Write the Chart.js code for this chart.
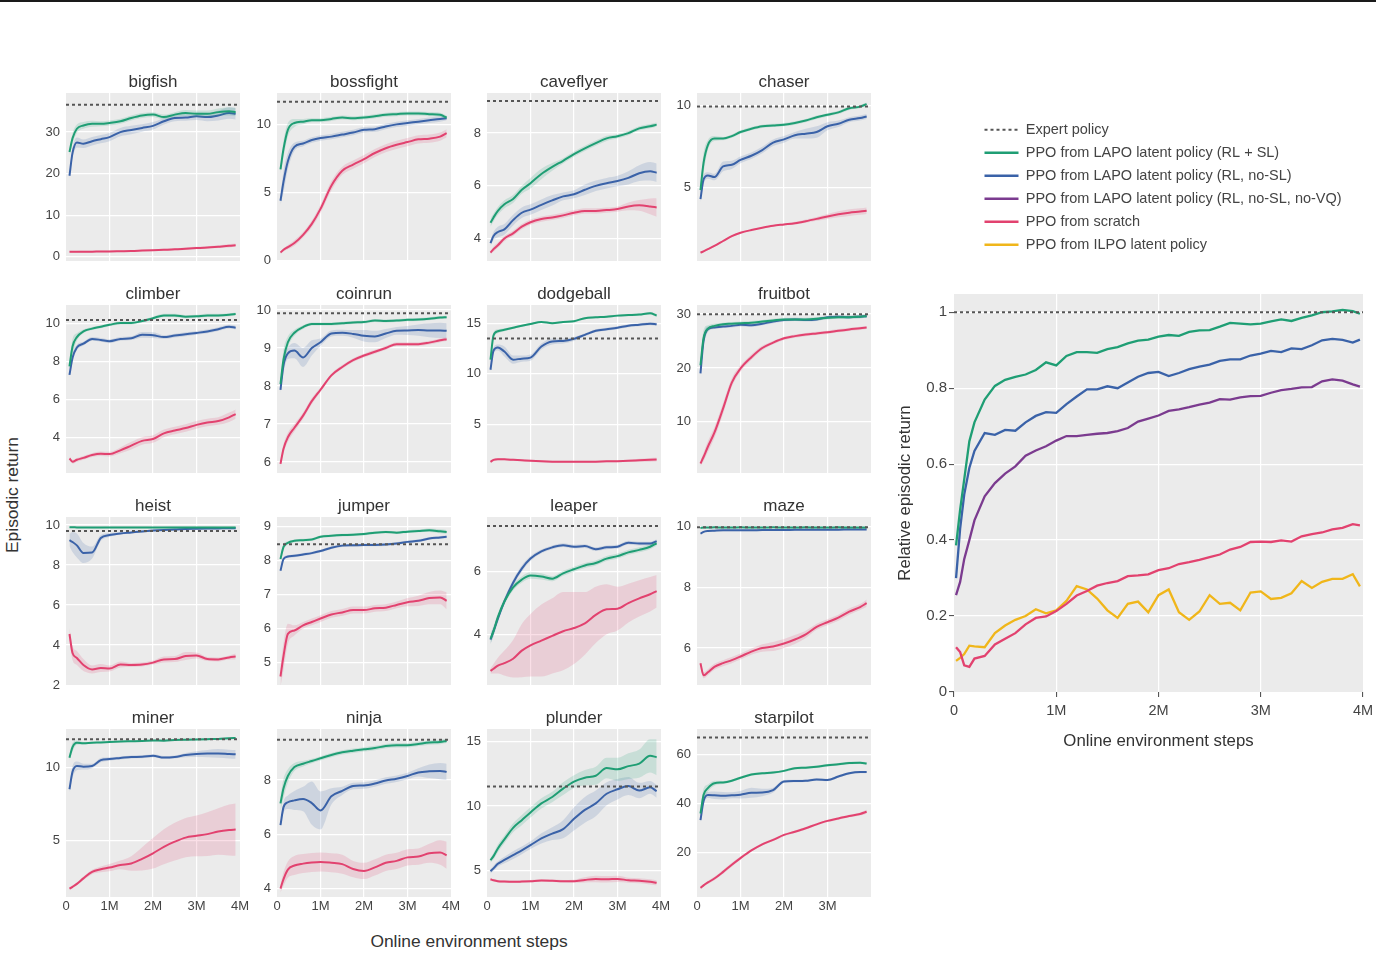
<!DOCTYPE html>
<html>
<head>
<meta charset="utf-8">
<title>LAPO Procgen online RL results</title>
<script src="https://cdn.jsdelivr.net/npm/chart.js@4.4.1/dist/chart.umd.min.js"></script>
<style>
  html, body { margin:0; padding:0; background:#ffffff; overflow:hidden; }
  #page { position:relative; width:1376px; height:954px; overflow:hidden; background:#ffffff; }
  #page canvas { position:absolute; }
  #topline { position:absolute; left:0; top:0; width:1376px; height:2px; background:#1a1a1a; }
  .axlbl { position:absolute; font-family:'Liberation Sans', Arial, sans-serif; font-size:17.4px; color:#333; white-space:nowrap; }
</style>
</head>
<body>
<div id="page">
  <div id="topline"></div>
  <div class="axlbl" style="left:12px;top:495px;transform:translate(-50%,-50%) rotate(-90deg);">Episodic return</div>
  <div class="axlbl" style="left:469px;top:941px;transform:translate(-50%,-50%);">Online environment steps</div>
</div>
<script>
// ---------------- DATA ----------------
// x positions (millions of online environment steps) of the per-game curves
const steps = [0.08, 0.15, 0.25, 0.4, 0.6, 0.8, 1.0, 1.25, 1.5, 1.75, 2.0, 2.25, 2.5, 2.75, 3.0, 3.25, 3.5, 3.75, 3.9];

const gameNames = ['bigfish','bossfight','caveflyer','chaser','climber','coinrun','dodgeball','fruitbot',
                   'heist','jumper','leaper','maze','miner','ninja','plunder','starpilot'];
const expertReturns = [36.6, 11.66, 9.22, 9.96, 10.21, 9.91, 13.5, 29.94, 9.7, 8.48, 7.46, 9.98, 11.93, 9.48, 11.52, 66.8];
const yAxisMin = [-1.0, -0.02, 3.15, 0.53, 2.1, 5.71, 0.2, 0.53, 2.0, 4.35, 2.38, 4.78, 1.1, 3.69, 2.92, 2.1];
const yAxisMax = [39.4, 12.3, 9.52, 10.78, 11.0, 10.13, 16.8, 31.67, 10.4, 9.28, 7.75, 10.32, 12.64, 9.88, 15.99, 70.3];
const yTickValues = [[0,10,20,30],[0,5,10],[4,6,8],[5,10],[4,6,8,10],[6,7,8,9,10],[5,10,15],[10,20,30],
                     [2,4,6,8,10],[5,6,7,8,9],[4,6],[6,8,10],[5,10],[4,6,8],[5,10,15],[20,40,60]];
const xTickValues = [0, 1, 2, 3, 4];
const xTickLabels = ['0', '1M', '2M', '3M', '4M'];

// PPO from LAPO latent policy (RL + SL): mean and half-width of band
const rlsl_bigfish    = [25.2, 28.5, 30.8, 31.6, 32.0, 32.0, 32.2, 32.6, 33.4, 34.0, 34.2, 33.6, 34.2, 34.6, 34.4, 34.4, 34.8, 35.0, 34.8];
const rlslSd_bigfish  = [0.8, 1.2, 1.0, 0.8, 0.7, 0.6, 0.6, 0.6, 0.6, 0.6, 0.6, 0.6, 0.6, 0.7, 0.8, 0.8, 0.9, 1.0, 1.0];
const nosl_bigfish    = [19.5, 25.0, 27.5, 27.2, 27.8, 28.3, 28.8, 30.0, 30.5, 31.0, 31.5, 32.6, 33.4, 33.5, 33.8, 33.6, 34.0, 34.6, 34.4];
const noslSd_bigfish  = [0.6, 1.2, 1.2, 1.0, 1.0, 1.0, 1.0, 1.0, 1.0, 0.9, 0.9, 0.8, 0.8, 0.8, 0.9, 1.0, 1.2, 1.4, 1.4];
const scratch_bigfish = [1.2, 1.2, 1.2, 1.25, 1.25, 1.3, 1.3, 1.35, 1.4, 1.5, 1.6, 1.7, 1.8, 1.95, 2.1, 2.25, 2.45, 2.65, 2.8];
const scratchSd_bigfish = [0.2, 0.2, 0.2, 0.2, 0.2, 0.2, 0.2, 0.2, 0.2, 0.2, 0.2, 0.25, 0.25, 0.3, 0.3, 0.3, 0.35, 0.4, 0.4];

const rlsl_bossfight    = [6.7, 8.2, 9.6, 10.1, 10.2, 10.3, 10.3, 10.4, 10.5, 10.45, 10.5, 10.6, 10.7, 10.75, 10.8, 10.8, 10.75, 10.7, 10.5];
const rlslSd_bossfight  = [0.3, 0.6, 0.5, 0.3, 0.2, 0.15, 0.15, 0.15, 0.15, 0.15, 0.15, 0.15, 0.15, 0.15, 0.15, 0.15, 0.15, 0.15, 0.15];
const nosl_bossfight    = [4.4, 5.8, 7.3, 8.35, 8.6, 8.85, 9.0, 9.1, 9.25, 9.4, 9.6, 9.65, 9.85, 10.0, 10.1, 10.2, 10.3, 10.4, 10.45];
const noslSd_bossfight  = [0.3, 0.8, 0.6, 0.3, 0.2, 0.2, 0.2, 0.2, 0.2, 0.2, 0.2, 0.2, 0.2, 0.2, 0.2, 0.2, 0.2, 0.2, 0.15];
const scratch_bossfight = [0.6, 0.8, 1.0, 1.3, 1.9, 2.7, 3.8, 5.5, 6.6, 7.05, 7.45, 7.9, 8.25, 8.5, 8.7, 8.9, 8.95, 9.1, 9.35];
const scratchSd_bossfight = [0.1, 0.1, 0.15, 0.2, 0.2, 0.25, 0.3, 0.35, 0.3, 0.3, 0.3, 0.3, 0.3, 0.3, 0.3, 0.3, 0.3, 0.3, 0.3];

const rlsl_caveflyer    = [4.6, 4.8, 5.05, 5.3, 5.5, 5.85, 6.1, 6.45, 6.72, 6.95, 7.2, 7.42, 7.62, 7.8, 7.88, 8.0, 8.18, 8.26, 8.32];
const rlslSd_caveflyer  = [0.15, 0.15, 0.15, 0.15, 0.15, 0.15, 0.2, 0.2, 0.15, 0.1, 0.1, 0.1, 0.1, 0.1, 0.08, 0.08, 0.08, 0.08, 0.08];
const nosl_caveflyer    = [3.83, 4.1, 4.25, 4.35, 4.7, 4.98, 5.1, 5.28, 5.45, 5.6, 5.68, 5.85, 6.0, 6.1, 6.18, 6.3, 6.48, 6.55, 6.5];
const noslSd_caveflyer  = [0.1, 0.15, 0.2, 0.2, 0.2, 0.2, 0.2, 0.2, 0.2, 0.15, 0.15, 0.2, 0.2, 0.2, 0.2, 0.25, 0.3, 0.35, 0.35];
const scratch_caveflyer = [3.47, 3.6, 3.75, 4.0, 4.2, 4.45, 4.62, 4.74, 4.8, 4.88, 4.98, 5.05, 5.05, 5.08, 5.12, 5.22, 5.26, 5.22, 5.18];
const scratchSd_caveflyer = [0.05, 0.1, 0.1, 0.1, 0.1, 0.1, 0.1, 0.1, 0.1, 0.1, 0.1, 0.1, 0.1, 0.1, 0.1, 0.15, 0.2, 0.3, 0.35];

const rlsl_chaser    = [4.86, 6.5, 7.6, 8.0, 8.0, 8.15, 8.4, 8.6, 8.75, 8.8, 8.85, 8.95, 9.1, 9.3, 9.45, 9.6, 9.85, 9.95, 10.1];
const rlslSd_chaser  = [0.3, 0.6, 0.3, 0.15, 0.1, 0.1, 0.1, 0.1, 0.1, 0.1, 0.1, 0.1, 0.1, 0.1, 0.1, 0.1, 0.1, 0.1, 0.1];
const nosl_chaser    = [4.3, 5.5, 5.75, 5.65, 6.3, 6.4, 6.7, 6.95, 7.3, 7.75, 7.95, 8.2, 8.3, 8.4, 8.75, 8.9, 9.15, 9.25, 9.35];
const noslSd_chaser  = [0.2, 0.3, 0.2, 0.2, 0.3, 0.25, 0.2, 0.2, 0.2, 0.2, 0.2, 0.2, 0.3, 0.35, 0.25, 0.2, 0.15, 0.15, 0.15];
const scratch_chaser = [1.04, 1.12, 1.25, 1.45, 1.75, 2.05, 2.25, 2.42, 2.56, 2.68, 2.76, 2.84, 2.96, 3.1, 3.25, 3.38, 3.48, 3.55, 3.6];
const scratchSd_chaser = [0.05, 0.05, 0.05, 0.05, 0.05, 0.05, 0.05, 0.05, 0.05, 0.05, 0.05, 0.08, 0.1, 0.12, 0.15, 0.18, 0.2, 0.2, 0.2];

const rlsl_climber    = [7.75, 8.8, 9.3, 9.6, 9.75, 9.85, 9.95, 10.05, 10.05, 10.15, 10.3, 10.45, 10.45, 10.38, 10.4, 10.45, 10.45, 10.48, 10.52];
const rlslSd_climber  = [0.2, 0.4, 0.2, 0.1, 0.08, 0.08, 0.08, 0.08, 0.08, 0.08, 0.08, 0.08, 0.08, 0.08, 0.08, 0.08, 0.08, 0.08, 0.08];
const nosl_climber    = [7.3, 8.2, 8.75, 8.95, 9.2, 9.15, 9.08, 9.2, 9.24, 9.42, 9.4, 9.3, 9.38, 9.45, 9.52, 9.6, 9.72, 9.85, 9.8];
const noslSd_climber  = [0.1, 0.2, 0.15, 0.1, 0.1, 0.1, 0.1, 0.1, 0.1, 0.15, 0.15, 0.1, 0.1, 0.1, 0.1, 0.1, 0.1, 0.1, 0.1];
const scratch_climber = [2.87, 2.7, 2.8, 2.9, 3.05, 3.12, 3.1, 3.3, 3.55, 3.8, 3.9, 4.2, 4.35, 4.48, 4.65, 4.78, 4.85, 5.05, 5.22];
const scratchSd_climber = [0.1, 0.1, 0.1, 0.1, 0.1, 0.12, 0.12, 0.15, 0.2, 0.2, 0.2, 0.2, 0.2, 0.2, 0.2, 0.2, 0.2, 0.25, 0.25];

const rlsl_coinrun    = [8.05, 8.7, 9.15, 9.4, 9.55, 9.63, 9.63, 9.63, 9.65, 9.67, 9.68, 9.72, 9.71, 9.72, 9.74, 9.75, 9.77, 9.8, 9.81];
const rlslSd_coinrun  = [0.15, 0.25, 0.15, 0.08, 0.05, 0.04, 0.04, 0.04, 0.04, 0.04, 0.04, 0.04, 0.04, 0.04, 0.04, 0.04, 0.04, 0.04, 0.04];
const nosl_coinrun    = [7.9, 8.55, 8.86, 8.93, 8.75, 9.0, 9.15, 9.38, 9.4, 9.37, 9.32, 9.3, 9.38, 9.45, 9.46, 9.47, 9.46, 9.46, 9.45];
const noslSd_coinrun  = [0.1, 0.2, 0.15, 0.2, 0.25, 0.2, 0.1, 0.08, 0.08, 0.1, 0.15, 0.15, 0.12, 0.1, 0.12, 0.15, 0.18, 0.2, 0.2];
const scratch_coinrun = [5.95, 6.35, 6.65, 6.9, 7.22, 7.6, 7.9, 8.28, 8.5, 8.68, 8.8, 8.9, 9.0, 9.1, 9.1, 9.1, 9.14, 9.2, 9.23];
const scratchSd_coinrun = [0.1, 0.12, 0.12, 0.1, 0.08, 0.08, 0.06, 0.05, 0.05, 0.05, 0.05, 0.05, 0.05, 0.05, 0.05, 0.05, 0.05, 0.05, 0.05];

const rlsl_dodgeball    = [11.4, 13.8, 14.2, 14.35, 14.55, 14.75, 14.93, 15.12, 15.0, 15.12, 15.2, 15.5, 15.58, 15.65, 15.75, 15.8, 15.85, 15.98, 15.76];
const rlslSd_dodgeball  = [0.2, 0.3, 0.2, 0.15, 0.1, 0.1, 0.1, 0.1, 0.1, 0.1, 0.1, 0.1, 0.1, 0.1, 0.1, 0.1, 0.1, 0.12, 0.15];
const nosl_dodgeball    = [10.4, 12.3, 12.6, 12.2, 11.4, 11.5, 11.6, 12.7, 13.2, 13.25, 13.45, 13.85, 14.25, 14.4, 14.55, 14.75, 14.85, 14.95, 14.9];
const noslSd_dodgeball  = [0.2, 0.3, 0.3, 0.5, 0.4, 0.3, 0.3, 0.3, 0.3, 0.25, 0.2, 0.15, 0.15, 0.15, 0.15, 0.15, 0.15, 0.15, 0.15];
const scratch_dodgeball = [1.3, 1.5, 1.57, 1.55, 1.5, 1.45, 1.4, 1.35, 1.32, 1.3, 1.3, 1.3, 1.32, 1.35, 1.37, 1.4, 1.45, 1.5, 1.53];
const scratchSd_dodgeball = [0.1, 0.1, 0.1, 0.1, 0.1, 0.1, 0.1, 0.1, 0.1, 0.1, 0.1, 0.1, 0.1, 0.1, 0.1, 0.12, 0.15, 0.18, 0.2];

const rlsl_fruitbot    = [20.5, 25.5, 27.3, 27.8, 28.1, 28.2, 28.3, 28.4, 28.6, 28.8, 29.0, 29.0, 29.0, 29.1, 29.3, 29.4, 29.4, 29.5, 29.6];
const rlslSd_fruitbot  = [1.0, 1.5, 0.6, 0.4, 0.3, 0.3, 0.3, 0.3, 0.3, 0.3, 0.3, 0.3, 0.3, 0.3, 0.3, 0.3, 0.3, 0.3, 0.3];
const nosl_fruitbot    = [19.0, 25.0, 27.2, 27.5, 27.7, 27.8, 28.0, 27.9, 28.2, 28.6, 28.9, 29.0, 28.9, 29.0, 29.4, 29.5, 29.4, 29.5, 29.6];
const noslSd_fruitbot  = [0.5, 1.0, 0.5, 0.3, 0.3, 0.3, 0.3, 0.3, 0.3, 0.3, 0.3, 0.3, 0.3, 0.3, 0.3, 0.3, 0.3, 0.3, 0.3];
const scratch_fruitbot = [2.3, 3.5, 5.4, 8.0, 12.5, 17.3, 19.9, 22.0, 23.7, 24.7, 25.5, 25.9, 26.2, 26.4, 26.6, 26.9, 27.15, 27.35, 27.5];
const scratchSd_fruitbot = [0.5, 0.8, 1.0, 1.0, 1.0, 0.8, 0.6, 0.5, 0.4, 0.3, 0.3, 0.3, 0.3, 0.3, 0.3, 0.3, 0.3, 0.3, 0.3];

const rlsl_heist    = [9.89, 9.89, 9.88, 9.88, 9.87, 9.87, 9.88, 9.88, 9.88, 9.88, 9.87, 9.87, 9.88, 9.88, 9.88, 9.88, 9.87, 9.87, 9.87];
const rlslSd_heist  = [0.04, 0.04, 0.04, 0.04, 0.04, 0.04, 0.04, 0.04, 0.04, 0.04, 0.04, 0.04, 0.04, 0.04, 0.04, 0.04, 0.04, 0.04, 0.04];
const nosl_heist    = [9.24, 9.15, 8.98, 8.6, 8.62, 9.35, 9.5, 9.58, 9.63, 9.68, 9.72, 9.75, 9.77, 9.8, 9.81, 9.82, 9.83, 9.84, 9.84];
const noslSd_heist  = [0.3, 0.5, 0.6, 0.5, 0.3, 0.15, 0.1, 0.06, 0.05, 0.05, 0.05, 0.05, 0.05, 0.05, 0.05, 0.05, 0.05, 0.05, 0.05];
const scratch_heist = [4.55, 3.6, 3.35, 3.0, 2.78, 2.85, 2.82, 3.02, 3.0, 3.02, 3.12, 3.28, 3.3, 3.45, 3.48, 3.3, 3.28, 3.38, 3.42];
const scratchSd_heist = [0.3, 0.35, 0.35, 0.3, 0.2, 0.2, 0.15, 0.15, 0.1, 0.1, 0.1, 0.15, 0.15, 0.2, 0.15, 0.1, 0.1, 0.1, 0.15];

const rlsl_jumper    = [8.05, 8.4, 8.52, 8.58, 8.6, 8.62, 8.7, 8.73, 8.75, 8.76, 8.78, 8.82, 8.84, 8.82, 8.85, 8.87, 8.89, 8.86, 8.84];
const rlslSd_jumper  = [0.1, 0.1, 0.05, 0.04, 0.04, 0.04, 0.04, 0.04, 0.04, 0.04, 0.04, 0.04, 0.04, 0.04, 0.04, 0.04, 0.05, 0.06, 0.06];
const nosl_jumper    = [7.7, 8.05, 8.12, 8.14, 8.18, 8.22, 8.28, 8.38, 8.44, 8.45, 8.46, 8.46, 8.47, 8.5, 8.55, 8.58, 8.65, 8.68, 8.7];
const noslSd_jumper  = [0.05, 0.05, 0.04, 0.04, 0.04, 0.04, 0.04, 0.04, 0.04, 0.04, 0.04, 0.04, 0.04, 0.04, 0.04, 0.04, 0.04, 0.04, 0.04];
const scratch_jumper = [4.6, 5.2, 5.85, 5.95, 6.1, 6.2, 6.3, 6.42, 6.48, 6.55, 6.55, 6.6, 6.62, 6.7, 6.78, 6.82, 6.9, 6.92, 6.82];
const scratchSd_jumper = [0.3, 0.4, 0.3, 0.15, 0.1, 0.1, 0.1, 0.1, 0.1, 0.1, 0.1, 0.1, 0.1, 0.1, 0.12, 0.15, 0.18, 0.2, 0.25];

const rlsl_leaper    = [3.86, 4.1, 4.55, 5.05, 5.5, 5.75, 5.88, 5.85, 5.78, 5.95, 6.08, 6.2, 6.28, 6.42, 6.5, 6.62, 6.7, 6.8, 6.91];
const rlslSd_leaper  = [0.15, 0.15, 0.12, 0.1, 0.1, 0.1, 0.1, 0.1, 0.08, 0.08, 0.08, 0.08, 0.08, 0.08, 0.08, 0.08, 0.08, 0.08, 0.08];
const nosl_leaper    = [3.83, 4.1, 4.5, 5.05, 5.65, 6.1, 6.42, 6.65, 6.78, 6.85, 6.8, 6.82, 6.72, 6.78, 6.8, 6.93, 6.9, 6.9, 6.98];
const noslSd_leaper  = [0.15, 0.15, 0.12, 0.1, 0.1, 0.1, 0.08, 0.06, 0.06, 0.06, 0.06, 0.06, 0.06, 0.06, 0.06, 0.06, 0.06, 0.06, 0.06];
const scratch_leaper = [2.83, 2.9, 3.0, 3.08, 3.22, 3.48, 3.65, 3.8, 3.95, 4.1, 4.2, 4.35, 4.62, 4.8, 4.82, 5.0, 5.15, 5.28, 5.38];
const scratchSd_leaper = [0.08, 0.15, 0.25, 0.4, 0.6, 0.85, 1.0, 1.15, 1.2, 1.25, 1.15, 1.0, 0.9, 0.8, 0.7, 0.62, 0.58, 0.55, 0.52];

const rlsl_maze    = [9.96, 9.97, 9.97, 9.98, 9.97, 9.97, 9.98, 9.97, 9.97, 9.98, 9.97, 9.97, 9.98, 9.97, 9.97, 9.98, 9.97, 9.97, 9.97];
const rlslSd_maze  = [0.03, 0.03, 0.03, 0.03, 0.03, 0.03, 0.03, 0.03, 0.03, 0.03, 0.03, 0.03, 0.03, 0.03, 0.03, 0.03, 0.03, 0.03, 0.03];
const nosl_maze    = [9.77, 9.83, 9.86, 9.87, 9.88, 9.88, 9.88, 9.88, 9.89, 9.89, 9.89, 9.9, 9.9, 9.9, 9.9, 9.9, 9.91, 9.91, 9.91];
const noslSd_maze  = [0.03, 0.03, 0.03, 0.03, 0.03, 0.03, 0.03, 0.03, 0.03, 0.03, 0.03, 0.03, 0.03, 0.03, 0.03, 0.03, 0.03, 0.03, 0.03];
const scratch_maze = [5.5, 5.1, 5.2, 5.38, 5.5, 5.6, 5.72, 5.88, 6.0, 6.05, 6.15, 6.28, 6.45, 6.7, 6.85, 7.0, 7.2, 7.35, 7.48];
const scratchSd_maze = [0.1, 0.1, 0.1, 0.1, 0.1, 0.1, 0.1, 0.1, 0.12, 0.15, 0.15, 0.15, 0.12, 0.1, 0.1, 0.1, 0.1, 0.1, 0.12];

const rlsl_miner    = [10.67, 11.4, 11.7, 11.66, 11.7, 11.72, 11.75, 11.78, 11.8, 11.82, 11.85, 11.84, 11.88, 11.9, 11.92, 11.94, 11.96, 12.0, 12.02];
const rlslSd_miner  = [0.2, 0.3, 0.15, 0.08, 0.06, 0.06, 0.06, 0.06, 0.06, 0.06, 0.06, 0.06, 0.06, 0.06, 0.06, 0.06, 0.06, 0.06, 0.06];
const nosl_miner    = [8.5, 9.7, 10.1, 10.05, 10.1, 10.5, 10.58, 10.65, 10.72, 10.73, 10.8, 10.68, 10.72, 10.85, 10.92, 10.95, 10.96, 10.92, 10.9];
const noslSd_miner  = [0.2, 0.4, 0.3, 0.2, 0.15, 0.15, 0.12, 0.1, 0.1, 0.1, 0.1, 0.1, 0.1, 0.15, 0.2, 0.25, 0.3, 0.3, 0.3];
const scratch_miner = [1.67, 1.8, 2.0, 2.38, 2.82, 3.0, 3.12, 3.3, 3.4, 3.72, 4.1, 4.55, 4.9, 5.18, 5.3, 5.42, 5.6, 5.7, 5.73];
const scratchSd_miner = [0.1, 0.1, 0.1, 0.12, 0.15, 0.2, 0.25, 0.3, 0.5, 0.8, 1.05, 1.2, 1.3, 1.35, 1.4, 1.5, 1.6, 1.75, 1.8];

const rlsl_ninja    = [7.14, 7.7, 8.15, 8.48, 8.6, 8.7, 8.8, 8.92, 9.02, 9.08, 9.13, 9.18, 9.25, 9.28, 9.28, 9.33, 9.38, 9.4, 9.44];
const rlslSd_ninja  = [0.3, 0.35, 0.25, 0.15, 0.1, 0.08, 0.08, 0.08, 0.08, 0.08, 0.08, 0.08, 0.08, 0.08, 0.08, 0.08, 0.08, 0.08, 0.08];
const nosl_ninja    = [6.34, 7.0, 7.18, 7.25, 7.3, 7.15, 6.88, 7.4, 7.6, 7.78, 7.8, 7.87, 7.98, 8.05, 8.15, 8.28, 8.32, 8.33, 8.3];
const noslSd_ninja  = [0.1, 0.2, 0.25, 0.35, 0.45, 0.8, 0.7, 0.3, 0.15, 0.12, 0.12, 0.12, 0.12, 0.12, 0.12, 0.15, 0.25, 0.3, 0.3];
const scratch_ninja = [4.0, 4.35, 4.7, 4.85, 4.92, 4.96, 4.98, 4.95, 4.9, 4.72, 4.65, 4.78, 4.95, 5.02, 5.15, 5.18, 5.3, 5.33, 5.23];
const scratchSd_ninja = [0.15, 0.25, 0.3, 0.35, 0.35, 0.35, 0.35, 0.35, 0.35, 0.3, 0.3, 0.3, 0.3, 0.3, 0.3, 0.3, 0.35, 0.45, 0.5];

const rlsl_plunder    = [5.78, 6.1, 6.7, 7.4, 8.3, 8.9, 9.5, 10.2, 10.7, 11.35, 11.9, 12.2, 12.35, 12.95, 12.85, 13.1, 13.3, 13.9, 13.8];
const rlslSd_plunder  = [0.2, 0.25, 0.3, 0.3, 0.35, 0.4, 0.4, 0.4, 0.4, 0.5, 0.5, 0.6, 0.7, 0.8, 0.9, 1.0, 1.1, 1.3, 1.4];
const nosl_plunder    = [4.92, 5.15, 5.5, 5.8, 6.18, 6.55, 6.95, 7.48, 7.85, 8.2, 9.0, 9.7, 10.2, 10.95, 11.3, 11.55, 11.2, 11.45, 11.15];
const noslSd_plunder  = [0.15, 0.2, 0.2, 0.25, 0.3, 0.3, 0.3, 0.4, 0.5, 0.7, 0.9, 1.0, 1.0, 0.9, 0.8, 0.7, 0.6, 0.5, 0.5];
const scratch_plunder = [4.3, 4.22, 4.15, 4.12, 4.1, 4.12, 4.15, 4.2, 4.18, 4.15, 4.15, 4.25, 4.32, 4.3, 4.33, 4.22, 4.18, 4.1, 4.03];
const scratchSd_plunder = [0.1, 0.1, 0.1, 0.1, 0.1, 0.1, 0.1, 0.1, 0.1, 0.1, 0.12, 0.2, 0.25, 0.25, 0.25, 0.2, 0.2, 0.2, 0.2];

const rlsl_starpilot    = [36.0, 43.5, 46.3, 48.3, 48.6, 49.3, 50.5, 51.8, 52.3, 52.6, 53.3, 54.4, 54.6, 55.0, 55.6, 56.0, 56.5, 56.6, 56.3];
const rlslSd_starpilot  = [1.5, 2.5, 1.5, 1.0, 0.6, 0.5, 0.5, 0.5, 0.5, 0.5, 0.5, 0.5, 0.5, 0.5, 0.5, 0.5, 0.5, 0.5, 0.5];
const nosl_starpilot    = [33.3, 41.0, 43.5, 43.4, 43.2, 43.4, 43.6, 44.4, 44.5, 45.5, 49.0, 49.2, 49.3, 49.8, 49.6, 51.0, 52.3, 52.8, 52.8];
const noslSd_starpilot  = [1.0, 1.5, 1.2, 1.5, 1.5, 1.2, 1.5, 2.0, 1.5, 1.0, 0.6, 0.5, 0.5, 0.5, 0.5, 0.5, 0.5, 0.5, 0.5];
const scratch_starpilot = [5.8, 6.8, 8.0, 9.6, 12.3, 15.2, 17.9, 21.0, 23.5, 25.3, 27.3, 28.6, 30.0, 31.6, 33.0, 34.0, 35.0, 35.8, 36.7];
const scratchSd_starpilot = [0.5, 0.5, 0.6, 0.7, 0.8, 0.8, 0.6, 0.5, 0.5, 0.5, 0.5, 0.5, 0.5, 0.5, 0.5, 0.5, 0.5, 0.6, 0.8];

// Aggregate plot: relative episodic return (x in millions of steps)
const aggSteps = [0.02, 0.06, 0.1, 0.15, 0.2, 0.3, 0.4, 0.5, 0.6, 0.7, 0.8, 0.9, 1.0, 1.1, 1.2, 1.3, 1.4, 1.5, 1.6, 1.7, 1.8, 1.9,
                  2.0, 2.1, 2.2, 2.3, 2.4, 2.5, 2.6, 2.7, 2.8, 2.9, 3.0, 3.1, 3.2, 3.3, 3.4, 3.5, 3.6, 3.7, 3.8, 3.9, 3.97];
const aggRLSL = [0.386, 0.48, 0.56, 0.66, 0.71, 0.77, 0.806, 0.822, 0.83, 0.836, 0.848, 0.868, 0.86, 0.885, 0.895, 0.895, 0.893, 0.903, 0.908, 0.918, 0.925, 0.928,
                 0.936, 0.94, 0.938, 0.948, 0.952, 0.953, 0.962, 0.972, 0.97, 0.968, 0.97, 0.976, 0.981, 0.977, 0.985, 0.992, 1.0, 1.002, 1.006, 1.003, 0.996];
const aggNoSL = [0.30, 0.43, 0.52, 0.59, 0.635, 0.682, 0.677, 0.69, 0.688, 0.71, 0.727, 0.737, 0.735, 0.758, 0.778, 0.797, 0.797, 0.805, 0.8, 0.815, 0.83, 0.84,
                 0.843, 0.832, 0.84, 0.85, 0.857, 0.862, 0.872, 0.876, 0.876, 0.886, 0.891, 0.898, 0.895, 0.905, 0.903, 0.913, 0.926, 0.93, 0.927, 0.92, 0.928];
const aggNoVQ = [0.255, 0.29, 0.35, 0.4, 0.452, 0.515, 0.55, 0.575, 0.594, 0.622, 0.636, 0.647, 0.662, 0.674, 0.674, 0.677, 0.68, 0.682, 0.687, 0.695, 0.712, 0.72,
                 0.728, 0.74, 0.744, 0.75, 0.757, 0.762, 0.771, 0.77, 0.776, 0.779, 0.78, 0.788, 0.795, 0.798, 0.802, 0.803, 0.818, 0.823, 0.82, 0.81, 0.804];
const aggScratch = [0.118, 0.105, 0.07, 0.066, 0.088, 0.095, 0.125, 0.14, 0.155, 0.178, 0.195, 0.199, 0.213, 0.232, 0.254, 0.266, 0.28, 0.287, 0.292, 0.305, 0.307, 0.31,
                    0.321, 0.326, 0.337, 0.342, 0.348, 0.355, 0.362, 0.375, 0.382, 0.395, 0.396, 0.395, 0.399, 0.396, 0.41, 0.416, 0.42, 0.428, 0.432, 0.442, 0.439];
const aggILPO = [0.082, 0.09, 0.1, 0.122, 0.12, 0.118, 0.155, 0.175, 0.19, 0.2, 0.218, 0.207, 0.215, 0.24, 0.279, 0.27, 0.246, 0.215, 0.195, 0.232, 0.238, 0.21,
                 0.255, 0.27, 0.21, 0.19, 0.212, 0.255, 0.232, 0.235, 0.215, 0.262, 0.265, 0.245, 0.248, 0.26, 0.292, 0.274, 0.29, 0.298, 0.298, 0.31, 0.278];
const aggExpert = 1.0;
const aggYTicks = [0, 0.2, 0.4, 0.6, 0.8, 1];

const legendLabels = ['Expert policy', 'PPO from LAPO latent policy (RL + SL)', 'PPO from LAPO latent policy (RL, no-SL)',
                      'PPO from LAPO latent policy (RL, no-SL, no-VQ)', 'PPO from scratch', 'PPO from ILPO latent policy'];

// ---------------- STYLE ----------------
const C_EXPERT = '#555555';
const C_GREEN = '#1f9e74';
const C_BLUE = '#3a62a8';
const C_PURPLE = '#7b3b8f';
const C_PINK = '#e2426f';
const C_YELLOW = '#f0b61a';
const BAND = { [C_GREEN]: 'rgba(31,158,116,0.17)', [C_BLUE]: 'rgba(58,98,168,0.17)', [C_PINK]: 'rgba(226,66,111,0.17)' };
const legendColors = [C_EXPERT, C_GREEN, C_BLUE, C_PURPLE, C_PINK, C_YELLOW];

Chart.defaults.font.family = "'Liberation Sans', Arial, sans-serif";
Chart.defaults.color = '#444';

const rlslAll = [rlsl_bigfish, rlsl_bossfight, rlsl_caveflyer, rlsl_chaser, rlsl_climber, rlsl_coinrun, rlsl_dodgeball, rlsl_fruitbot,
                 rlsl_heist, rlsl_jumper, rlsl_leaper, rlsl_maze, rlsl_miner, rlsl_ninja, rlsl_plunder, rlsl_starpilot];
const rlslSdAll = [rlslSd_bigfish, rlslSd_bossfight, rlslSd_caveflyer, rlslSd_chaser, rlslSd_climber, rlslSd_coinrun, rlslSd_dodgeball, rlslSd_fruitbot,
                   rlslSd_heist, rlslSd_jumper, rlslSd_leaper, rlslSd_maze, rlslSd_miner, rlslSd_ninja, rlslSd_plunder, rlslSd_starpilot];
const noslAll = [nosl_bigfish, nosl_bossfight, nosl_caveflyer, nosl_chaser, nosl_climber, nosl_coinrun, nosl_dodgeball, nosl_fruitbot,
                 nosl_heist, nosl_jumper, nosl_leaper, nosl_maze, nosl_miner, nosl_ninja, nosl_plunder, nosl_starpilot];
const noslSdAll = [noslSd_bigfish, noslSd_bossfight, noslSd_caveflyer, noslSd_chaser, noslSd_climber, noslSd_coinrun, noslSd_dodgeball, noslSd_fruitbot,
                   noslSd_heist, noslSd_jumper, noslSd_leaper, noslSd_maze, noslSd_miner, noslSd_ninja, noslSd_plunder, noslSd_starpilot];
const scratchAll = [scratch_bigfish, scratch_bossfight, scratch_caveflyer, scratch_chaser, scratch_climber, scratch_coinrun, scratch_dodgeball, scratch_fruitbot,
                    scratch_heist, scratch_jumper, scratch_leaper, scratch_maze, scratch_miner, scratch_ninja, scratch_plunder, scratch_starpilot];
const scratchSdAll = [scratchSd_bigfish, scratchSd_bossfight, scratchSd_caveflyer, scratchSd_chaser, scratchSd_climber, scratchSd_coinrun, scratchSd_dodgeball, scratchSd_fruitbot,
                      scratchSd_heist, scratchSd_jumper, scratchSd_leaper, scratchSd_maze, scratchSd_miner, scratchSd_ninja, scratchSd_plunder, scratchSd_starpilot];

const page = document.getElementById('page');
const bgPlugin = {
  id: 'plotBg',
  beforeDraw(chart) {
    const a = chart.chartArea; if (!a) return;
    const ctx = chart.ctx; ctx.save(); ctx.fillStyle = '#ebebeb';
    ctx.fillRect(a.left, a.top, a.right - a.left, a.bottom - a.top); ctx.restore();
  }
};

function makeCanvas(left, top, w, h) {
  const cv = document.createElement('canvas');
  cv.width = w; cv.height = h;
  cv.style.left = left + 'px'; cv.style.top = top + 'px';
  cv.style.width = w + 'px'; cv.style.height = h + 'px';
  page.appendChild(cv);
  return cv;
}
const pts = (xs, ys) => xs.map((x, i) => ({ x: x, y: ys[i] }));
const ptsOff = (xs, ys, ds, sign) => xs.map((x, i) => ({ x: x, y: ys[i] + sign * ds[i] }));

// ---------------- SMALL MULTIPLES ----------------
const colLeft = [66, 277, 487, 697];
const rowTop = [93, 305, 517, 729];
const PW = 174, PH = 168;
const ML = 40, MR = 16, MT = 33, MB = 26;

gameNames.forEach((name, gi) => {
  const col = gi % 4, row = Math.floor(gi / 4);
  const cv = makeCanvas(colLeft[col] - ML, rowTop[row] - MT, ML + PW + MR, MT + PH + MB);
  const isBottom = row === 3;
  const datasets = [];
  datasets.push({ data: [{ x: 0, y: expertReturns[gi] }, { x: 4, y: expertReturns[gi] }], borderColor: C_EXPERT,
                  borderWidth: 2, borderDash: [3, 3], pointRadius: 0, fill: false });
  [[rlslAll[gi], rlslSdAll[gi], C_GREEN], [noslAll[gi], noslSdAll[gi], C_BLUE], [scratchAll[gi], scratchSdAll[gi], C_PINK]].forEach(s => {
    const [vals, sd, col] = s;
    datasets.push({ data: pts(steps, vals), borderColor: col, borderWidth: 2, pointRadius: 0, fill: false, cubicInterpolationMode: 'monotone' });
    datasets.push({ data: ptsOff(steps, vals, sd, 1), borderColor: 'rgba(0,0,0,0)', borderWidth: 0, pointRadius: 0, fill: false, cubicInterpolationMode: 'monotone' });
    datasets.push({ data: ptsOff(steps, vals, sd, -1), borderColor: 'rgba(0,0,0,0)', borderWidth: 0, pointRadius: 0, fill: '-1', backgroundColor: BAND[col], cubicInterpolationMode: 'monotone' });
  });
  new Chart(cv, {
    type: 'line',
    data: { datasets },
    plugins: [bgPlugin],
    options: {
      responsive: false, animation: false, events: [],
      layout: { padding: { left: 0, right: MR, top: 0, bottom: 0 } },
      plugins: {
        legend: { display: false }, tooltip: { enabled: false },
        title: { display: true, text: name, fullSize: false, color: '#333', font: { size: 17, lineHeight: 1, weight: 'normal' }, padding: { top: 14, bottom: 2 } }
      },
      scales: {
        x: {
          type: 'linear', min: 0, max: 4,
          afterBuildTicks: s => { s.ticks = xTickValues.map(v => ({ value: v })); },
          afterFit: s => { s.height = MB; },
          grid: { color: c => (c.tick && (c.tick.value === 0 || c.tick.value === 4)) ? 'rgba(0,0,0,0)' : '#ffffff', lineWidth: 1.2, drawTicks: false },
          border: { display: false },
          ticks: { display: isBottom, color: '#444', font: { size: 13 }, padding: 2, autoSkip: false, maxRotation: 0,
                   callback: (v) => (name === 'starpilot' && v === 4) ? '' : xTickLabels[xTickValues.indexOf(v)] }
        },
        y: {
          type: 'linear', min: yAxisMin[gi], max: yAxisMax[gi],
          afterBuildTicks: s => { s.ticks = yTickValues[gi].map(v => ({ value: v })); },
          afterFit: s => { s.width = ML; },
          grid: { color: c => (c.tick && c.tick.value <= yAxisMin[gi]) ? 'rgba(0,0,0,0)' : '#ffffff', lineWidth: 1.2, drawTicks: false },
          border: { display: false },
          ticks: { color: '#444', font: { size: 13 }, padding: 6, callback: v => String(v) }
        }
      }
    }
  });
});

// ---------------- AGGREGATE CHART ----------------
(function () {
  const left = 890, top = 283, W = 490, H = 477;
  const cv = makeCanvas(left, top, W, H);
  const series = [[aggRLSL, C_GREEN], [aggNoSL, C_BLUE], [aggNoVQ, C_PURPLE], [aggScratch, C_PINK], [aggILPO, C_YELLOW]];
  const datasets = [{ data: [{ x: 0, y: aggExpert }, { x: 4, y: aggExpert }], borderColor: C_EXPERT, borderWidth: 2, borderDash: [3, 3], pointRadius: 0, fill: false }];
  series.forEach(s => datasets.push({ data: pts(aggSteps, s[0]), borderColor: s[1], borderWidth: 2.3, pointRadius: 0, fill: false, tension: 0 }));
  new Chart(cv, {
    type: 'line',
    data: { datasets },
    plugins: [bgPlugin],
    options: {
      responsive: false, animation: false, events: [],
      layout: { padding: { left: 0, right: 17, top: 10, bottom: 0 } },
      plugins: { legend: { display: false }, tooltip: { enabled: false } },
      scales: {
        x: {
          type: 'linear', min: 0, max: 4,
          afterBuildTicks: s => { s.ticks = xTickValues.map(v => ({ value: v })); },
          afterFit: s => { s.height = 68; },
          grid: { color: c => (c.tick && (c.tick.value === 0 || c.tick.value === 4)) ? 'rgba(0,0,0,0)' : '#ffffff',
                  lineWidth: 1.2, drawTicks: true, tickLength: 5, tickColor: '#444', tickWidth: 1 },
          border: { display: false },
          ticks: { color: '#444', font: { size: 14.5 }, padding: 5, autoSkip: false, maxRotation: 0,
                   callback: v => xTickLabels[xTickValues.indexOf(v)] },
          title: { display: true, text: 'Online environment steps', color: '#333', font: { size: 16.8 }, padding: { top: 0, bottom: 9 } }
        },
        y: {
          type: 'linear', min: 0, max: 1.048,
          afterBuildTicks: s => { s.ticks = aggYTicks.map(v => ({ value: v })); },
          afterFit: s => { s.width = 64; },
          grid: { color: c => (c.tick && c.tick.value === 0) ? 'rgba(0,0,0,0)' : '#ffffff',
                  lineWidth: 1.2, drawTicks: true, tickLength: 5, tickColor: '#444', tickWidth: 1 },
          border: { display: false },
          ticks: { color: '#444', font: { size: 15 }, padding: 2, callback: v => String(v) },
          title: { display: true, text: 'Relative episodic return', color: '#333', font: { size: 16.8 }, padding: { top: 5, bottom: 0 } }
        }
      }
    }
  });
})();

// ---------------- LEGEND ----------------
(function () {
  const cv = makeCanvas(976, 114, 400, 160);
  new Chart(cv, {
    type: 'line',
    data: { datasets: legendLabels.map((t, i) => ({ label: t, data: [], borderColor: legendColors[i], borderDash: i === 0 ? [3, 3] : [] })) },
    options: {
      responsive: false, animation: false, events: [],
      layout: { padding: 0 },
      scales: { x: { display: false }, y: { display: false } },
      plugins: {
        tooltip: { enabled: false },
        legend: {
          display: true, position: 'left', align: 'start', maxWidth: 400,
          labels: {
            usePointStyle: true, pointStyle: 'line', pointStyleWidth: 34, boxHeight: 14.5, padding: 8.5,
            color: '#444', font: { size: 14.5 },
            generateLabels: () => legendLabels.map((t, i) => ({
              text: t, fillStyle: legendColors[i], strokeStyle: legendColors[i], lineWidth: i === 0 ? 2 : 2.6,
              lineDash: i === 0 ? [3, 3] : [], pointStyle: 'line', hidden: false, datasetIndex: i, fontColor: '#444'
            }))
          }
        }
      }
    }
  });
})();
</script>
</body>
</html>
